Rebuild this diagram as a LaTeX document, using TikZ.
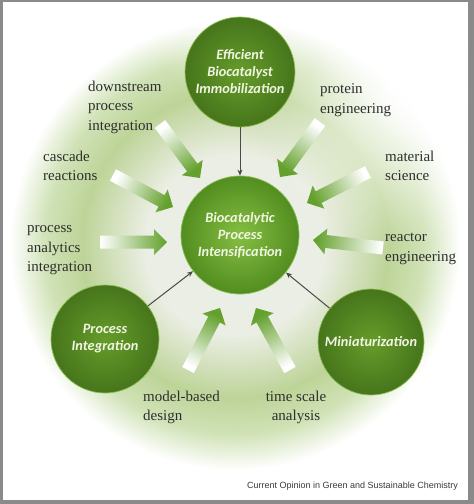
\documentclass[tikz,border=0pt]{standalone}
\usepackage{fontspec}
\setmainfont{Liberation Serif}
\newfontfamily\circfont{Carlito}
\newfontfamily\capfont{Liberation Sans}
\usetikzlibrary{calc,arrows.meta,fadings}

\definecolor{framegray}{HTML}{8A8A8A}
\definecolor{bgA}{HTML}{EBEEE4}
\definecolor{bgB}{HTML}{BDD498}
\definecolor{bgC}{HTML}{D0E2B6}
\definecolor{cgIn}{HTML}{669C2A}
\definecolor{cgOut}{HTML}{46751B}
\definecolor{ccIn}{HTML}{86BE42}
\definecolor{ccOut}{HTML}{528D20}
\definecolor{rimgreen}{HTML}{8DBE55}
\definecolor{circtext}{HTML}{F0F6E2}
\definecolor{lblgray}{HTML}{2E2E2E}
\definecolor{conngray}{HTML}{4A4A4A}
\definecolor{fagreen}{HTML}{63A02C}
\definecolor{capgray}{HTML}{3A3A3A}

\pgfdeclareradialshading{bgshade}{\pgfpoint{0bp}{0bp}}{color(0bp)=(bgA); color(10bp)=(bgA); color(17bp)=(bgB); color(21bp)=(bgC); color(25bp)=(white); color(50bp)=(white)}

\tikzfading[name=myfadeout, inner color=transparent!0, outer color=transparent!100]

\newcommand\fatarrow[2]{%
  \pgfmathanglebetweenpoints{\pgfpointanchor{#1}{center}}{\pgfpointanchor{#2}{center}}%
  \pgfmathsetmacro\faang{\pgfmathresult+90}%
  \coordinate (fab) at ($(#2)!13pt!(#1)$);
  \shade[fat, shading angle=\faang]
    ($(#1)!6.5pt!90:(#2)$) -- ($(fab)!6.5pt!90:(#2)$) -- ($(fab)!13pt!90:(#2)$) -- (#2)
    -- ($(fab)!13pt!-90:(#2)$) -- ($(fab)!6.5pt!-90:(#2)$) -- ($(#1)!6.5pt!-90:(#2)$) -- cycle;
}

\begin{document}
\begin{tikzpicture}[x=1pt,y=-1pt,
  bigc/.style={circle, inner sep=0pt, text=circtext, align=center,
    font=\circfont\bfseries\itshape\fontsize{14.3}{17}\selectfont, draw=rimgreen, line width=0.7pt},
  outerc/.style={bigc, inner color=cgIn, outer color=cgOut},
  centerc/.style={bigc, inner color=ccIn, outer color=ccOut},
  lbl/.style={inner sep=0pt, align=left, text=lblgray, font=\fontsize{15}{19.5}\selectfont},
  conn/.style={draw=conngray, line width=1pt, -{Stealth[length=6pt,width=5pt]}},
  fat/.style={left color=white, right color=fagreen}]

\useasboundingbox (0,0) rectangle (474,504);
\fill[framegray] (0,0) rectangle (474,504);
\fill[white] (3,2) rectangle (468,500);

\begin{scope}
  \clip (3,2) rectangle (468,500);
  \shade[shading=bgshade] (235,245) circle (225);
  \fill[white, path fading=myfadeout, opacity=0.95] (405,95) circle (150);
  \fill[white, path fading=myfadeout, opacity=0.5] (240,20) circle (90);
\end{scope}

% circles
\node[centerc, minimum size=118pt] (bpi) at (240,235) {Biocatalytic\\Process\\Intensification};
\node[outerc, minimum size=110pt] (ebi) at (240,72) {Efficient\\Biocatalyst\\Immobilization};
\node[outerc, minimum size=108pt] (pin) at (105,339) {Process\\Integration};
\node[outerc, minimum size=106pt] (min) at (371,342) {Miniaturization};

% fat arrow end points
\coordinate (dpiT) at (160,124); \coordinate (dpiH) at (200,178);
\coordinate (crT) at (113,175);  \coordinate (crH) at (173,207);
\coordinate (paiT) at (100,242); \coordinate (paiH) at (167,242);
\coordinate (peT) at (320,122);  \coordinate (peH) at (280,177);
\coordinate (msT) at (368,172);  \coordinate (msH) at (307,203);
\coordinate (reT) at (383,248);  \coordinate (reH) at (313,240);
\coordinate (mbdT) at (188,370); \coordinate (mbdH) at (220,308);
\coordinate (tsaT) at (290,370); \coordinate (tsaH) at (256,308);

\fatarrow{dpiT}{dpiH}
\fatarrow{crT}{crH}
\fatarrow{paiT}{paiH}
\fatarrow{peT}{peH}
\fatarrow{msT}{msH}
\fatarrow{reT}{reH}
\fatarrow{mbdT}{mbdH}
\fatarrow{tsaT}{tsaH}

% connectors
\draw[conn] (ebi) -- (bpi);
\draw[conn] (pin) -- (bpi);
\draw[conn] (min) -- (bpi);

% labels
\node[lbl, anchor=north west] (tdpi) at (88,80.5) {downstream\\process\\integration};
\node[lbl, anchor=north west] (tcr) at (43,150.8) {cascade\\reactions};
\node[lbl, anchor=north west] (tpai) at (27,225.3) {process\\analytics\\integration};
\node[lbl, anchor=north west] (tpe) at (320,83.8) {protein\\engineering};
\node[lbl, anchor=north west] (tms) at (385,150.8) {material\\science};
\node[lbl, anchor=north west] (tre) at (385,233.3) {reactor\\engineering};
\node[lbl, anchor=north west] (tmbd) at (143,390.8) {model-based\\design};
\node[lbl, align=center, anchor=north] (ttsa) at (296,390.8) {time scale\\analysis};

\node[anchor=base east, inner sep=0pt, text=capgray, font=\capfont\fontsize{9}{11}\selectfont] (cap) at (458,488.5) {Current Opinion in Green and Sustainable Chemistry};
\end{tikzpicture}
\end{document}
